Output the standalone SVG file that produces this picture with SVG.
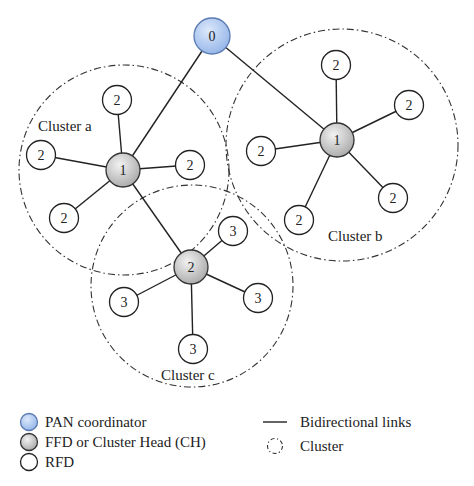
<svg xmlns="http://www.w3.org/2000/svg" width="474" height="486" viewBox="0 0 474 486">
<defs>
<radialGradient id="gGray" cx="0.4" cy="0.35" r="0.7">
<stop offset="0" stop-color="#f2f2f2"/>
<stop offset="1" stop-color="#a8a8a8"/>
</radialGradient>
<radialGradient id="gBlue" cx="0.4" cy="0.35" r="0.7">
<stop offset="0" stop-color="#dce8fb"/>
<stop offset="1" stop-color="#93b4e8"/>
</radialGradient>
<style>
text{font-family:"Liberation Serif","Times New Roman",serif;fill:#222;}
.lbl{font-size:14px;text-anchor:middle;}
.cl{font-size:15px;}
.lg{font-size:15px;}
.rfd{fill:#fff;stroke:#222;stroke-width:1.3;}
.ch{fill:url(#gGray);stroke:#333;stroke-width:1.3;}
.pan{fill:url(#gBlue);stroke:#5a7bb0;stroke-width:1.3;}
.link{stroke:#222;stroke-width:1.4;fill:none;}
.clus{fill:none;stroke:#333;stroke-width:1.1;stroke-dasharray:7 3 1.5 3;}
</style>
</defs>
<rect width="474" height="486" fill="#fff"/>
<g id="clusters">
<circle class="clus" cx="124" cy="170" r="105"/>
<circle class="clus" cx="342" cy="145" r="116"/>
<circle class="clus" cx="192" cy="286" r="101"/>
</g>
<g id="connectors">
<line class="link" x1="212" y1="36" x2="123" y2="170"/>
<line class="link" x1="212" y1="36" x2="337" y2="140"/>
<line class="link" x1="123" y1="170" x2="191" y2="267"/>
<line class="link" x1="123" y1="170" x2="117" y2="100"/>
<line class="link" x1="123" y1="170" x2="41" y2="155"/>
<line class="link" x1="123" y1="170" x2="190" y2="165"/>
<line class="link" x1="123" y1="170" x2="64" y2="218"/>
<line class="link" x1="337" y1="140" x2="336" y2="65"/>
<line class="link" x1="337" y1="140" x2="409" y2="105"/>
<line class="link" x1="337" y1="140" x2="261" y2="151"/>
<line class="link" x1="337" y1="140" x2="393" y2="198"/>
<line class="link" x1="337" y1="140" x2="299" y2="220"/>
<line class="link" x1="191" y1="267" x2="233" y2="231"/>
<line class="link" x1="191" y1="267" x2="124" y2="302"/>
<line class="link" x1="191" y1="267" x2="258" y2="298"/>
<line class="link" x1="191" y1="267" x2="193" y2="349"/>
</g>
<g id="n0"><circle class="pan" cx="212" cy="36" r="18"/><text class="lbl" x="212" y="41">0</text></g>
<g id="ha"><circle class="ch" cx="123" cy="170" r="17"/><text class="lbl" x="123" y="175">1</text></g>
<g id="hb"><circle class="ch" cx="337" cy="140" r="17"/><text class="lbl" x="337" y="145">1</text></g>
<g id="hc"><circle class="ch" cx="191" cy="267" r="17"/><text class="lbl" x="191" y="272">2</text></g>
<g id="a1"><circle class="rfd" cx="117" cy="100" r="14.5"/><text class="lbl" x="117" y="105">2</text></g>
<g id="a2"><circle class="rfd" cx="41" cy="155" r="14.5"/><text class="lbl" x="41" y="160">2</text></g>
<g id="a3"><circle class="rfd" cx="190" cy="165" r="14.5"/><text class="lbl" x="190" y="170">2</text></g>
<g id="a4"><circle class="rfd" cx="64" cy="218" r="14.5"/><text class="lbl" x="64" y="223">2</text></g>
<g id="b1"><circle class="rfd" cx="336" cy="65" r="14.5"/><text class="lbl" x="336" y="70">2</text></g>
<g id="b2"><circle class="rfd" cx="409" cy="105" r="14.5"/><text class="lbl" x="409" y="110">2</text></g>
<g id="b3"><circle class="rfd" cx="261" cy="151" r="14.5"/><text class="lbl" x="261" y="156">2</text></g>
<g id="b4"><circle class="rfd" cx="393" cy="198" r="14.5"/><text class="lbl" x="393" y="203">2</text></g>
<g id="b5"><circle class="rfd" cx="299" cy="220" r="14.5"/><text class="lbl" x="299" y="225">2</text></g>
<g id="c1"><circle class="rfd" cx="233" cy="231" r="14.5"/><text class="lbl" x="233" y="236">3</text></g>
<g id="c2"><circle class="rfd" cx="124" cy="302" r="14.5"/><text class="lbl" x="124" y="307">3</text></g>
<g id="c3"><circle class="rfd" cx="258" cy="298" r="14.5"/><text class="lbl" x="258" y="303">3</text></g>
<g id="c4"><circle class="rfd" cx="193" cy="349" r="14.5"/><text class="lbl" x="193" y="354">3</text></g>
<g id="labels">
<text class="cl" x="38" y="131">Cluster a</text>
<text class="cl" x="328" y="241">Cluster b</text>
<text class="cl" x="161" y="380">Cluster c</text>
</g>
<g id="legend">
<circle class="pan" cx="29" cy="422" r="8.5"/>
<text class="lg" x="45" y="427">PAN coordinator</text>
<circle class="ch" cx="29" cy="442" r="8.5"/>
<text class="lg" x="45" y="447">FFD or Cluster Head (CH)</text>
<circle class="rfd" cx="29" cy="462" r="8.5"/>
<text class="lg" x="45" y="467">RFD</text>
<line class="link" x1="263" y1="422" x2="287" y2="422"/>
<text class="lg" x="300" y="427">Bidirectional links</text>
<circle cx="275" cy="446" r="7.5" fill="none" stroke="#333" stroke-width="1.1" stroke-dasharray="4 2.5 1.2 2.5"/>
<text class="lg" x="300" y="451">Cluster</text>
</g>
</svg>
